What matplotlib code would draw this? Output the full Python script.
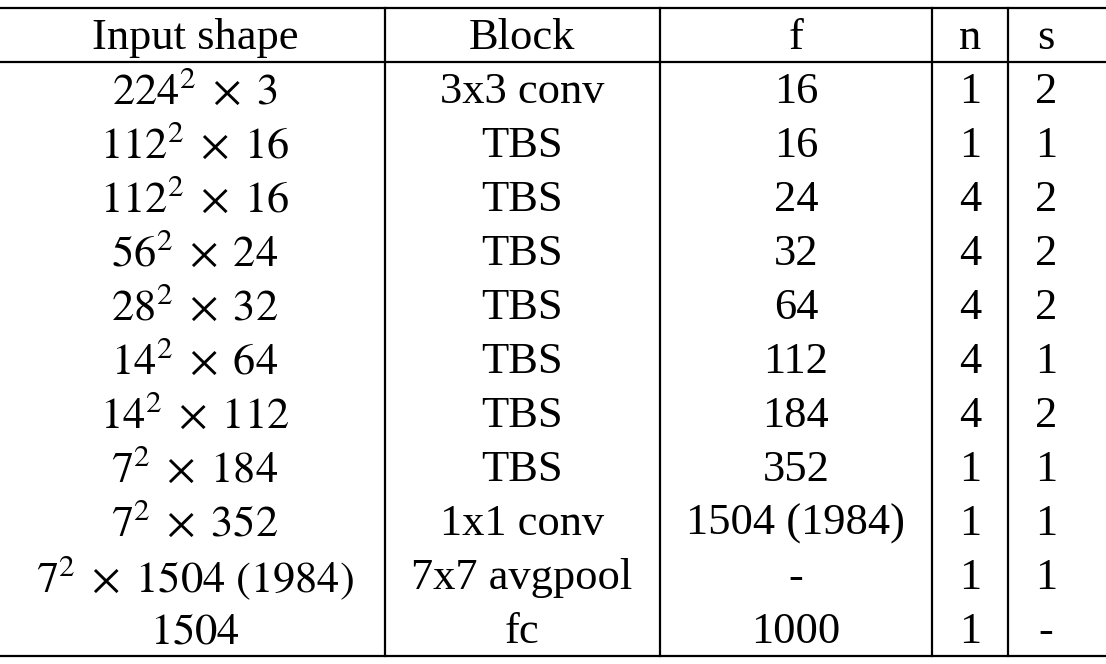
import matplotlib
matplotlib.use("Agg")
import matplotlib.pyplot as plt

plt.rcParams['mathtext.fontset'] = 'stix'
plt.rcParams['font.family'] = ['Liberation Serif', 'DejaVu Serif']

headers = ["Input shape", "Block", "f", "n", "s"]
input_shape = [r"$224^2\;\times\;3$", r"$112^2\;\times\;16$", r"$112^2\;\times\;16$", r"$56^2\;\times\;24$",
               r"$28^2\;\times\;32$", r"$14^2\;\times\;64$", r"$14^2\;\times\;112$", r"$7^2\;\times\;184$",
               r"$7^2\;\times\;352$", r"$7^2\;\times\;1504\ (1984)$", r"$1504$"]
block = ["3x3 conv", "TBS", "TBS", "TBS", "TBS", "TBS", "TBS", "TBS", "1x1 conv", "7x7 avgpool", "fc"]
f_vals = ["16", "16", "24", "32", "64", "112", "184", "352", "1504 (1984)", "-", "1000"]
n_vals = ["1", "1", "4", "4", "4", "4", "4", "1", "1", "1", "1"]
s_vals = ["2", "1", "2", "2", "2", "1", "2", "1", "1", "1", "-"]

W, H = 1106, 664
fig = plt.figure(figsize=(W/100, H/100), dpi=100)
ax = fig.add_axes([0, 0, 1, 1])
ax.set_xlim(0, W); ax.set_ylim(H, 0); ax.axis('off')

col_x = [195, 522, 796, 970, 1046]
vlines = [385, 660, 932, 1008]
top, hdr_bot, bot = 8, 62, 656
row_h = (bot - hdr_bot) / 11
fs = 32
dy = 3

for x, h in zip(col_x, headers):
    ax.text(x, (top + hdr_bot) / 2 + dy, h, ha='center', va='center', fontsize=fs)
cols = [input_shape, block, f_vals, n_vals, s_vals]
for i in range(11):
    y = hdr_bot + row_h * (i + 0.5) + dy
    for x, c in zip(col_x, cols):
        ax.text(x, y, c[i], ha='center', va='center', fontsize=fs)

for y in (top, hdr_bot, bot):
    ax.plot([0, W], [y, y], color='black', lw=1.6)
for x in vlines:
    ax.plot([x, x], [top, bot], color='black', lw=1.6)

fig.savefig("out.png", dpi=100)
